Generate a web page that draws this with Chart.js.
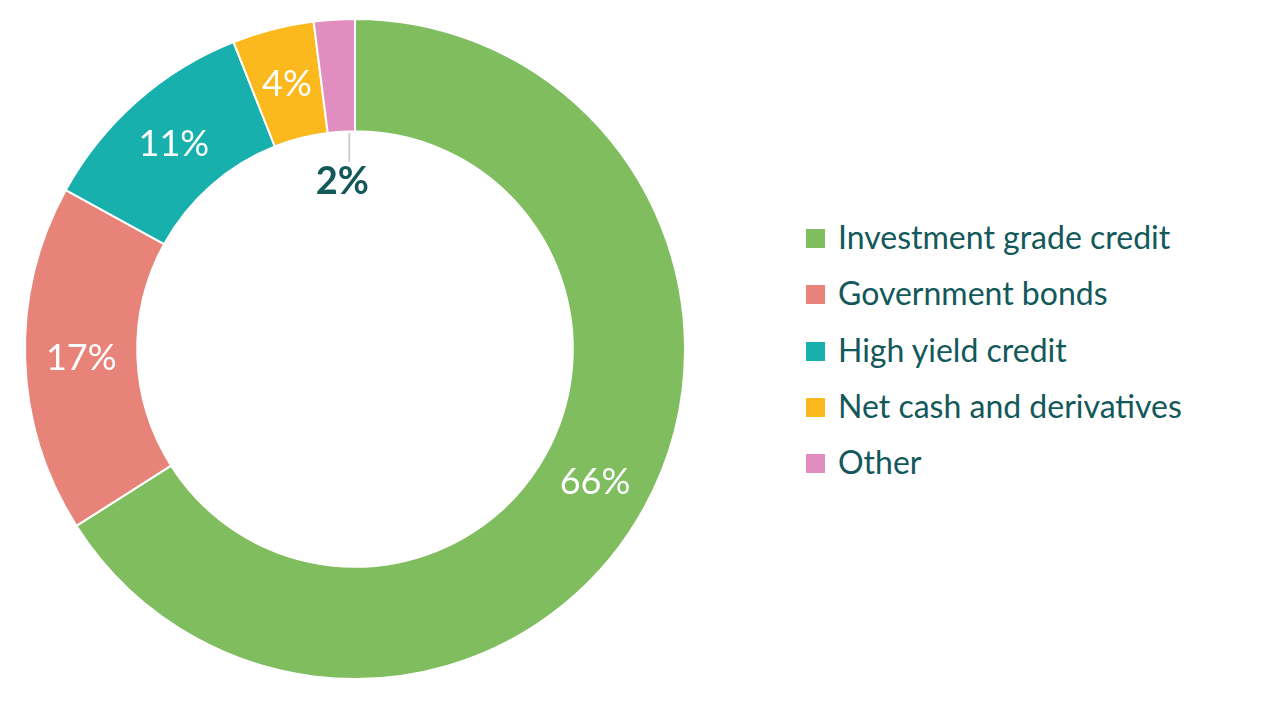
<!DOCTYPE html>
<html>
<head>
<meta charset="utf-8">
<script src="https://cdn.jsdelivr.net/npm/chart.js@4/dist/chart.umd.min.js"></script>
<style>
  html, body { margin: 0; padding: 0; background: #fff; }
  #wrap { position: relative; width: 1280px; height: 720px; overflow: hidden; }
  #chart-box { position: absolute; left: 0; top: 0; width: 710px; height: 720px; }
  #legend { position: absolute; left: 806px; top: 212px; margin: 0; padding: 0; list-style: none;
    font-family: Lato, sans-serif; font-size: 32px; color: #13585a; }
  #legend li { height: 56.3px; line-height: 50px; white-space: nowrap; }
  #legend span { display: inline-block; width: 19px; height: 19px; margin-right: 13px; vertical-align: 1px; }
</style>
</head>
<body>
<div id="wrap">
  <div id="chart-box"><canvas id="canvas-mix"></canvas></div>
  <ul id="legend"></ul>
</div>
<script>
var categorias = ["Investment grade credit", "Government bonds", "High yield credit", "Net cash and derivatives", "Other"];
var valores = [66, 17, 11, 4, 2];
var colores = ["#7fbd5f", "#e8837a", "#18b0ad", "#fbb91e", "#e28dbf"];
var etiquetas = ["66%", "17%", "11%", "4%", "2%"];

// etiquetas sobre cada segmento, la ultima fuera (bajo el anillo) con linea
var pluginEtiquetas = {
  id: 'etiquetas',
  afterDatasetsDraw: function(chart){
    var ctx = chart.ctx;
    var meta = chart.getDatasetMeta(0);
    ctx.save();
    ctx.textAlign = "center";
    ctx.textBaseline = "middle";
    meta.data.forEach(function(arc, i){
      var p = arc.getProps(["x", "y", "startAngle", "endAngle", "innerRadius", "outerRadius"], true);
      var mid = (p.startAngle + p.endAngle) / 2;
      if(i == meta.data.length - 1){
        var lx = p.x + p.innerRadius * Math.cos(mid);
        var ly = p.y + p.innerRadius * Math.sin(mid);
        ctx.strokeStyle = "#cfcfcf";
        ctx.lineWidth = 2;
        ctx.beginPath();
        ctx.moveTo(lx + 8, ly + 1);
        ctx.lineTo(lx + 8, ly + 30);
        ctx.stroke();
        ctx.fillStyle = "#13585a";
        ctx.font = "bold 38px Lato, sans-serif";
        ctx.fillText(etiquetas[i], lx + 1, ly + 50);
      }else{
        var r = (p.innerRadius + p.outerRadius) / 2;
        ctx.fillStyle = "#ffffff";
        ctx.font = "36px Lato, sans-serif";
        ctx.fillText(etiquetas[i], p.x + r * Math.cos(mid), p.y + r * Math.sin(mid) + 1);
      }
    });
    ctx.restore();
  }
};

var config = {
  type: 'doughnut',
  data: {
    labels: categorias,
    datasets: [{
      data: valores,
      backgroundColor: colores,
      borderColor: "#ffffff",
      borderWidth: 2
    }]
  },
  options: {
    responsive: true,
    maintainAspectRatio: false,
    animation: false,
    cutout: "66%",
    layout: { padding: { top: 18, bottom: 40, left: 24, right: 24 } },
    plugins: {
      legend: { display: false },
      tooltip: { enabled: false }
    }
  },
  plugins: [pluginEtiquetas]
};
new Chart(document.getElementById("canvas-mix").getContext("2d"), config);

var ul = document.getElementById("legend");
categorias.forEach(function(c, i){
  var li = document.createElement("li");
  var sq = document.createElement("span");
  sq.style.background = colores[i];
  li.appendChild(sq);
  li.appendChild(document.createTextNode(c));
  ul.appendChild(li);
});
</script>
</body>
</html>
